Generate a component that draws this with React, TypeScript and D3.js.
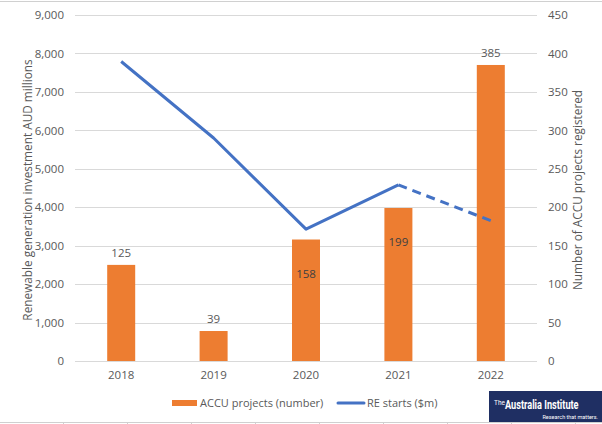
import * as d3 from "d3";
import { useEffect, useRef } from "react";

// ---- data ----
const years = ["2018", "2019", "2020", "2021", "2022"];
const accuProjects = [125, 39, 158, 199, 385];
const reStarts = [7790, 5800, 3430, 4580, 3650];
// where each bar label sits: above the bar or tucked inside its top
const labelPlacement = ["above", "above", "inside", "inside", "above"];
const leftTicks = [0, 1000, 2000, 3000, 4000, 5000, 6000, 7000, 8000, 9000];
const rightTicks = [0, 50, 100, 150, 200, 250, 300, 350, 400, 450];

const ORANGE = "#ED7D31";
const BLUE = "#4472C4";
const GRID = "#D9D9D9";
const TEXT = "#595959";
const FONT = "'Open Sans', sans-serif";

export default function App() {
  const ref = useRef<SVGSVGElement>(null);

  useEffect(() => {
    const svg = d3.select(ref.current);
    svg.selectAll("*").remove();

    const W = 602;
    const H = 424;
    const margin = { top: 15, left: 75, right: 65, bottom: 63 };
    const width = W - margin.left - margin.right;
    const height = H - margin.top - margin.bottom;

    const g = svg.append("g").attr("transform", `translate(${margin.left},${margin.top})`);

    // ---------- scales ----------
    const X = d3.scaleBand().domain(years).range([0, width]);
    const Y = d3.scaleLinear().domain([0, 9000]).range([height, 0]);
    const Y2 = d3.scaleLinear().domain([0, 450]).range([height, 0]);
    const barW = 28;

    // ---------- frame bits ----------
    svg.append("line")
      .attr("x1", 0).attr("x2", W).attr("y1", 1.5).attr("y2", 1.5)
      .attr("stroke", "#D0D0D0");
    svg.append("line")
      .attr("x1", 0).attr("x2", W).attr("y1", 422.5).attr("y2", 422.5)
      .attr("stroke", "#D0D0D0");
    svg.selectAll(".cellTick")
      .data(d3.range(63, W, 64))
      .join("line")
      .attr("x1", (d) => d + 0.5).attr("x2", (d) => d + 0.5)
      .attr("y1", 422).attr("y2", 424)
      .attr("stroke", "#D0D0D0");

    // ---------- grid ----------
    g.append("g")
      .selectAll("line")
      .data(leftTicks)
      .join("line")
      .attr("x1", 0).attr("x2", width)
      .attr("y1", (d) => Math.round(Y(d)) + 0.5)
      .attr("y2", (d) => Math.round(Y(d)) + 0.5)
      .attr("stroke", GRID)
      .attr("stroke-width", 1);

    // ---------- axes ----------
    const axL = g.append("g")
      .call(d3.axisLeft(Y).tickValues(leftTicks).tickSize(0).tickPadding(11).tickFormat(d3.format(",")));
    const axR = g.append("g")
      .attr("transform", `translate(${width},0)`)
      .call(d3.axisRight(Y2).tickValues(rightTicks).tickSize(0).tickPadding(11));
    const axB = g.append("g")
      .attr("transform", `translate(0,${height})`)
      .call(d3.axisBottom(X).tickSize(0).tickPadding(10));
    [axL, axR, axB].forEach((a) => {
      a.select(".domain").remove();
      a.selectAll("text").attr("fill", TEXT).style("font-size", "11.5px").style("font-family", FONT);
    });

    // ---------- bars ----------
    g.append("g")
      .selectAll("rect")
      .data(accuProjects)
      .join("rect")
      .attr("x", (d, i) => X(years[i])! + X.bandwidth() / 2 - barW / 2)
      .attr("y", (d) => Y2(d))
      .attr("width", barW)
      .attr("height", (d) => height - Y2(d))
      .attr("fill", ORANGE);

    // ---------- line ----------
    const pts = reStarts.map((v, i) => [X(years[i])! + X.bandwidth() / 2, Y(v)] as [number, number]);
    const line = d3.line();
    g.append("path")
      .attr("d", line(pts.slice(0, 4)))
      .attr("fill", "none")
      .attr("stroke", BLUE)
      .attr("stroke-width", 3)
      .attr("stroke-linejoin", "round");
    g.append("path")
      .attr("d", line(pts.slice(3)))
      .attr("fill", "none")
      .attr("stroke", BLUE)
      .attr("stroke-width", 3)
      .attr("stroke-dasharray", "9,6");

    // ---------- bar labels ----------
    g.append("g")
      .selectAll("text")
      .data(accuProjects)
      .join("text")
      .attr("x", (d, i) => X(years[i])! + X.bandwidth() / 2)
      .attr("y", (d, i) => (labelPlacement[i] === "inside" ? Y2(d) + 38 : Y2(d) - 8))
      .attr("text-anchor", "middle")
      .attr("fill", (d, i) => (labelPlacement[i] === "inside" ? "#404040" : TEXT))
      .style("font-size", "11.5px")
      .style("font-family", FONT)
      .text((d) => d);

    // ---------- axis titles ----------
    svg.append("text")
      .attr("transform", `translate(32,${margin.top + height / 2 + 2}) rotate(-90)`)
      .attr("text-anchor", "middle")
      .attr("fill", TEXT)
      .style("font-size", "11.8px")
      .style("font-family", FONT)
      .text("Renewable generation investment AUD millions");
    svg.append("text")
      .attr("transform", `translate(582,${margin.top + height / 2 + 2}) rotate(-90)`)
      .attr("text-anchor", "middle")
      .attr("fill", TEXT)
      .style("font-size", "11.8px")
      .style("font-family", FONT)
      .text("Number of ACCU projects registered");

    // ---------- legend ----------
    const lg = svg.append("g").attr("transform", "translate(0,403)");
    lg.append("rect").attr("x", 172).attr("y", -3).attr("width", 25).attr("height", 6).attr("fill", ORANGE);
    lg.append("text").attr("x", 200).attr("y", 4).attr("fill", TEXT)
      .style("font-size", "11px").style("font-family", FONT).text("ACCU projects (number)");
    lg.append("line").attr("x1", 338).attr("x2", 364).attr("y1", 0).attr("y2", 0)
      .attr("stroke", BLUE).attr("stroke-width", 3).attr("stroke-linecap", "round");
    lg.append("text").attr("x", 367).attr("y", 4).attr("fill", TEXT)
      .style("font-size", "11px").style("font-family", FONT).text("RE starts ($m)");

    // ---------- logo ----------
    const logo = svg.append("g");
    logo.append("rect").attr("x", 489).attr("y", 391).attr("width", 113).attr("height", 31).attr("fill", "#1F2F63");
    logo.append("text").attr("x", 494).attr("y", 405).attr("fill", "white")
      .style("font-family", "Roboto, sans-serif").attr("font-size", 6.5).text("The");
    logo.append("text")
      .attr("transform", "translate(505,409) scale(0.68,1)")
      .attr("fill", "white")
      .style("font-family", "Roboto, sans-serif").attr("font-size", 13.5).attr("font-weight", 700)
      .text("Australia Institute");
    logo.append("text").attr("x", 598).attr("y", 419).attr("text-anchor", "end").attr("fill", "white")
      .style("font-family", "Roboto, sans-serif").attr("font-size", 5.5).text("Research that matters.");
  }, []);

  return (
    <svg
      ref={ref}
      width={602}
      height={424}
      style={{ position: "absolute", left: 0, top: 0, background: "white" }}
    />
  );
}
